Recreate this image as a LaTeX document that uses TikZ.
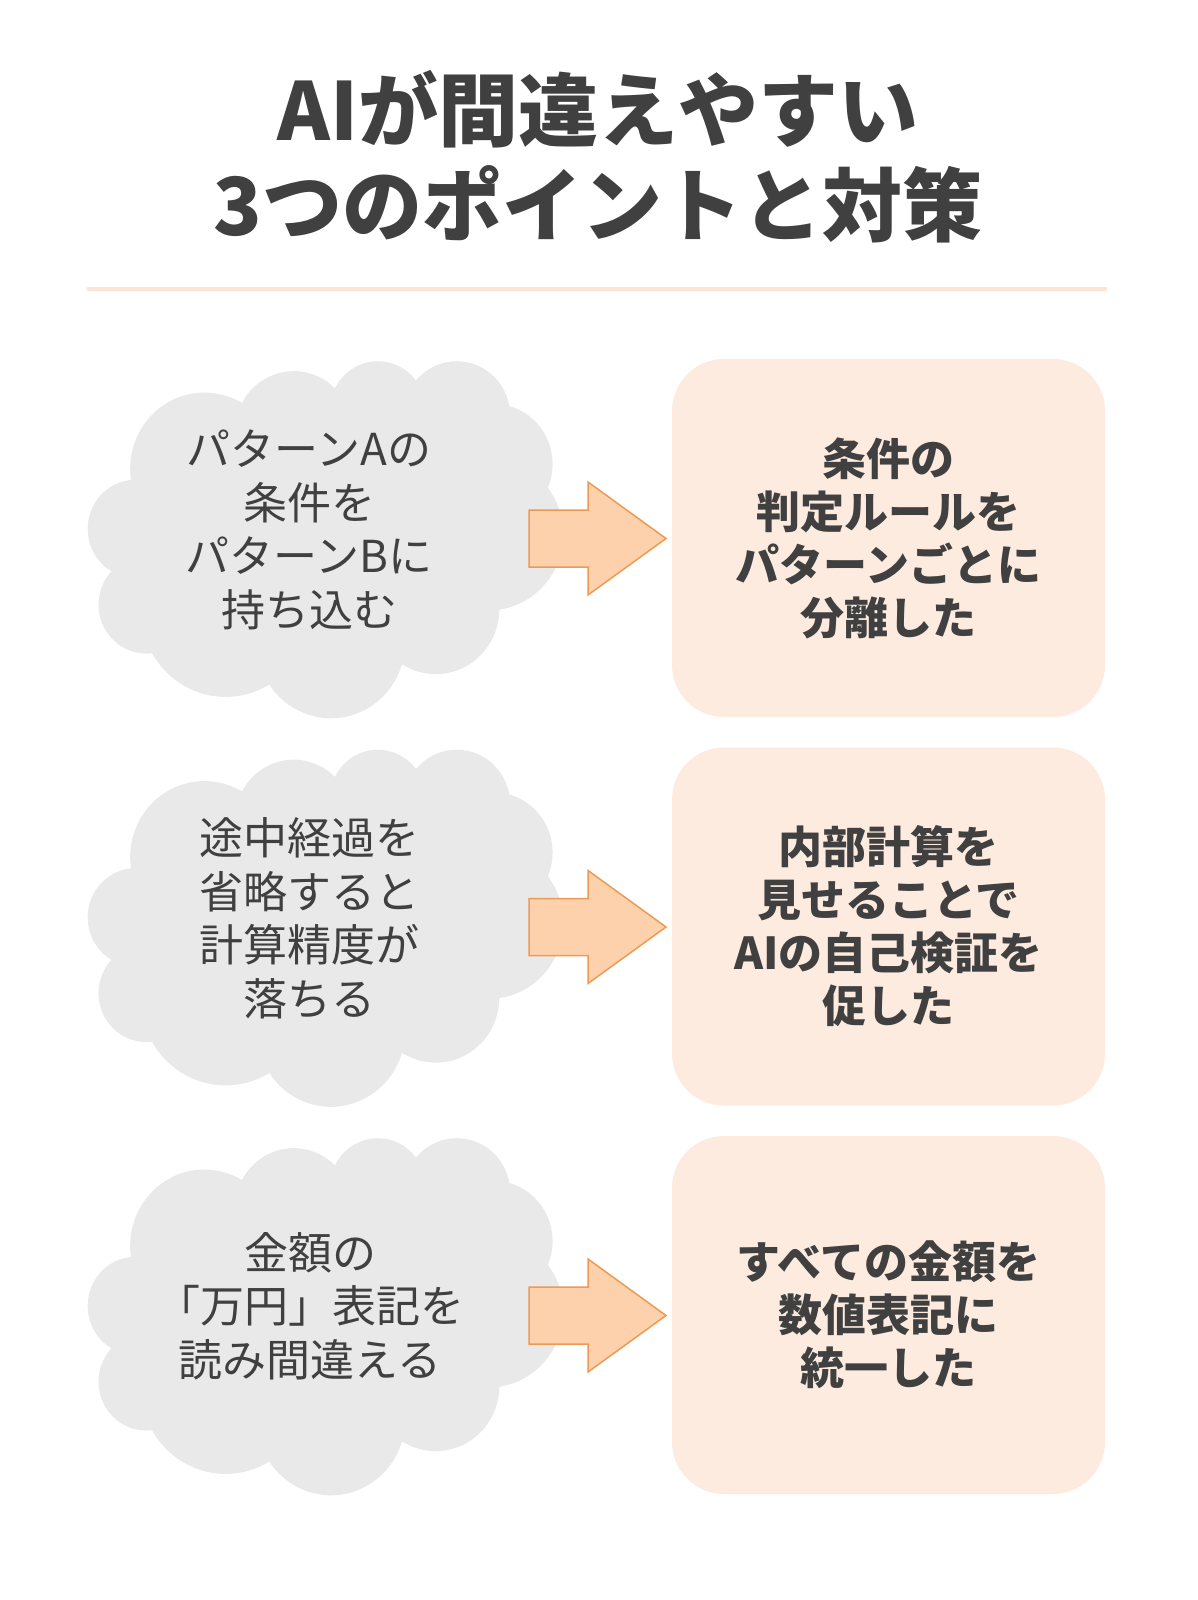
\documentclass[tikz,border=0pt]{standalone}
\usepackage{fontspec}
\newfontfamily\jp{Noto Sans CJK JP}
\definecolor{txt}{HTML}{404040}
\definecolor{cloudc}{HTML}{E9E9E9}
\definecolor{boxc}{HTML}{FDEBDF}
\definecolor{arrf}{HTML}{FDD1AB}
\definecolor{arrd}{HTML}{EE9A55}
\definecolor{sepc}{HTML}{FCE5D4}
% cloud outline (PowerPoint-like), #1 = vertical centre of the row
\newcommand{\mycloud}[1]{%
  \fill[cloudc] (130.88,#1-59.75)
    arc[x radius=74.252pt, y radius=75.945pt, start angle=187.743, end angle=59.63]
    arc[x radius=58.639pt, y radius=60.055pt, start angle=151.996, end angle=45.447]
    arc[x radius=47.994pt, y radius=49.130pt, start angle=153.48, end angle=37.36]
    arc[x radius=53.404pt, y radius=54.500pt, start angle=139.79, end angle=10.19]
    arc[x radius=58.639pt, y radius=60.105pt, start angle=74.79, end angle=-23.25]
    arc[x radius=74.494pt, y radius=76.195pt, start angle=37.53, end angle=-81.86]
    arc[x radius=63.607pt, y radius=65.013pt, start angle=-0.459, end angle=-122.00]
    arc[x radius=74.243pt, y radius=76.152pt, start angle=-16.886, end angle=-146.17]
    arc[x radius=84.883pt, y radius=87.126pt, start angle=-59.07, end angle=-150.09]
    arc[x radius=47.942pt, y radius=48.905pt, start angle=276.71, end angle=136.97]
    arc[x radius=47.776pt, y radius=49.130pt, start angle=239.78, end angle=95.86]
    -- cycle;}
\newcommand{\myarrow}[1]{%
  \filldraw[fill=arrf, draw=arrd, line width=1.5pt, line join=miter]
    (529,#1-28.5) -- (588,#1-28.5) -- (588,#1-56.5) -- (666,#1)
    -- (588,#1+56.5) -- (588,#1+28.5) -- (529,#1+28.5) -- cycle;}
\begin{document}
\begin{tikzpicture}[x=1pt,y=-1pt,
  titletxt/.style={font=\jp\bfseries\fontsize{80}{95}\selectfont, text=txt, align=center, inner sep=0},
  cloudtxt/.style={font=\jp\fontsize{44}{53.5}\selectfont, text=txt, align=center, inner sep=0},
  boxtxt/.style={font=\jp\bfseries\fontsize{44}{53}\selectfont, text=txt, align=center, inner sep=0},
  solbox/.style={fill=boxc, rounded corners=52pt, minimum width=433pt, minimum height=358pt, inner sep=0}]
\useasboundingbox (0,0) rectangle (1197,1600);
\fill[white] (0,0) rectangle (1197,1600);
% title
\node[titletxt] (t1) at (598,109) {AIが間違えやすい};
\node[titletxt] (t2) at (598,204) {3つのポイントと対策};
\coordinate (sl) at (87,289);
\coordinate (sr) at (1107,289);
\draw[sepc, line width=4pt] (sl) -- (sr);
% row 1
\mycloud{538.5}
\myarrow{538.5}
\node[solbox] (b1) at (888.5,538) {};
\node[cloudtxt] (c1) at (309,530) {パターンAの\\条件を\\パターンBに\\持ち込む};
\node[boxtxt] at (b1.center) (s1) {条件の\\判定ルールを\\パターンごとに\\分離した};
% row 2
\mycloud{927}
\myarrow{927}
\node[solbox] (b2) at (888.5,926.5) {};
\node[cloudtxt] (c2) at (309,918.5) {途中経過を\\省略すると\\計算精度が\\落ちる};
\node[boxtxt] at (b2.center) (s2) {内部計算を\\見せることで\\AIの自己検証を\\促した};
% row 3
\mycloud{1315.5}
\myarrow{1315.5}
\node[solbox] (b3) at (888.5,1315) {};
\node[cloudtxt] (c3) at (310,1306) {金額の\\「万円」表記を\\読み間違える};
\node[boxtxt] at (b3.center) (s3) {すべての金額を\\数値表記に\\統一した};
\end{tikzpicture}
\end{document}
